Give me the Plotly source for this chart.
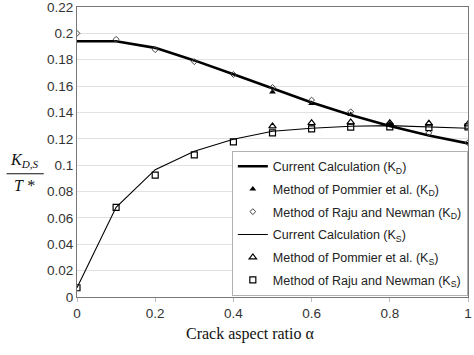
import plotly.graph_objects as go

alpha = [0, 0.1, 0.2, 0.3, 0.4, 0.5, 0.6, 0.7, 0.8, 0.9, 1.0]

kd_current = [0.194, 0.194, 0.189, 0.1795, 0.169, 0.158, 0.1475, 0.138, 0.1298, 0.1225, 0.1165]
kd_raju = [0.200, 0.1955, 0.1876, 0.1785, 0.1688, 0.159, 0.1494, 0.1405, 0.132, 0.1245, 0.117]
alpha_pommier_d = [0.5, 0.6, 0.7, 0.8]
kd_pommier = [0.1555, 0.1468, 0.1384, 0.1315]

ks_current = [0.007, 0.068, 0.0966, 0.1106, 0.1197, 0.1257, 0.128, 0.1295, 0.130, 0.129, 0.128]
ks_raju = [0.007, 0.068, 0.0925, 0.1078, 0.1177, 0.1245, 0.1275, 0.1288, 0.129, 0.1285, 0.129]
alpha_pommier_s = [0.5, 0.6, 0.7, 0.8, 0.9, 1.0]
ks_pommier = [0.1295, 0.132, 0.1326, 0.132, 0.1316, 0.131]

y_ticks = [0, 0.02, 0.04, 0.06, 0.08, 0.1, 0.12, 0.14, 0.16, 0.18, 0.2, 0.22]
y_ticktext = ["0", "0.02", "0.04", "0.06", "0.08", "0.1", "0.12", "0.14", "0.16", "0.18", "0.2", "0.22"]
x_ticks = [0, 0.2, 0.4, 0.6, 0.8, 1]
x_ticktext = ["0", "0.2", "0.4", "0.6", "0.8", "1"]

fig = go.Figure()
fig.add_trace(go.Scatter(x=alpha, y=kd_current, mode="lines", line=dict(color="black", width=2.6),
                         name="Current Calculation (K<sub>D</sub>)", legendgroup="a"))
fig.add_trace(go.Scatter(x=alpha_pommier_d, y=kd_pommier, mode="markers",
                         marker=dict(symbol="triangle-up", size=6, color="black"),
                         name="Method of Pommier et al. (K<sub>D</sub>)", legendgroup="b"))
fig.add_trace(go.Scatter(x=alpha, y=kd_raju, mode="markers",
                         marker=dict(symbol="diamond-open", size=4.5, color="#444", line=dict(width=1)),
                         name="Method of Raju and Newman (K<sub>D</sub>)", legendgroup="c"))
fig.add_trace(go.Scatter(x=alpha, y=ks_current, mode="lines", line=dict(color="black", width=1.1),
                         name="Current Calculation (K<sub>S</sub>)", legendgroup="d"))
fig.add_trace(go.Scatter(x=alpha_pommier_s, y=ks_pommier, mode="markers",
                         marker=dict(symbol="triangle-up-open", size=6.5, color="black", line=dict(width=1.2)),
                         name="Method of Pommier et al. (K<sub>S</sub>)", legendgroup="e"))
fig.add_trace(go.Scatter(x=alpha, y=ks_raju, mode="markers",
                         marker=dict(symbol="square-open", size=6, color="black", line=dict(width=1.2)),
                         name="Method of Raju and Newman (K<sub>S</sub>)", legendgroup="f"))

fig.update_layout(
    width=474, height=355,
    margin=dict(l=77, r=6, t=7, b=58, autoexpand=False),
    paper_bgcolor="white", plot_bgcolor="white",
    font=dict(family="Liberation Sans, Arial, sans-serif", size=12, color="#222"),
    legend=dict(x=0.396, y=0.505, xanchor="left", yanchor="top",
                bgcolor="white", bordercolor="#b0b0b0", borderwidth=1,
                font=dict(size=12.5, color="#222"), tracegroupgap=3.5,
                traceorder="grouped", itemwidth=30),
    xaxis=dict(range=[0, 1], tickvals=x_ticks, ticktext=x_ticktext, showgrid=False,
               showline=True, linecolor="#777", linewidth=1, mirror=True,
               ticks="outside", ticklen=4, tickcolor="#bbb", zeroline=False,
               ticklabeloverflow="allow",
               tickfont=dict(size=13.5, color="#333")),
    yaxis=dict(range=[0, 0.22], tickvals=y_ticks, ticktext=y_ticktext, showgrid=True,
               gridcolor="#e2e2e2", gridwidth=1,
               showline=True, linecolor="#777", linewidth=1, mirror=True,
               ticks="", zeroline=False, ticklabeloverflow="allow",
               tickfont=dict(size=13.5, color="#333")),
)

fig.add_annotation(text="Crack aspect ratio α", xref="paper", yref="paper", x=0.445, y=-0.09,
                   xanchor="center", yanchor="top", showarrow=False,
                   font=dict(family="Liberation Serif, Times New Roman, serif", size=16, color="#111"))
fig.add_annotation(text="<i>K<sub>D,S</sub></i>", xref="paper", yref="paper", x=-0.133, y=0.43,
                   xanchor="center", yanchor="bottom", showarrow=False,
                   font=dict(family="Liberation Serif, Times New Roman, serif", size=16, color="#111"))
fig.add_annotation(text="<i>T *</i>", xref="paper", yref="paper", x=-0.133, y=0.42,
                   xanchor="center", yanchor="top", showarrow=False,
                   font=dict(family="Liberation Serif, Times New Roman, serif", size=16, color="#111"))
fig.add_shape(type="line", xref="paper", yref="paper", x0=-0.18, x1=-0.085, y0=0.425, y1=0.425,
              line=dict(color="#111", width=1))

fig.write_html("out.html", config={"displayModeBar": False},
               post_script="document.body.style.margin='0px';")
